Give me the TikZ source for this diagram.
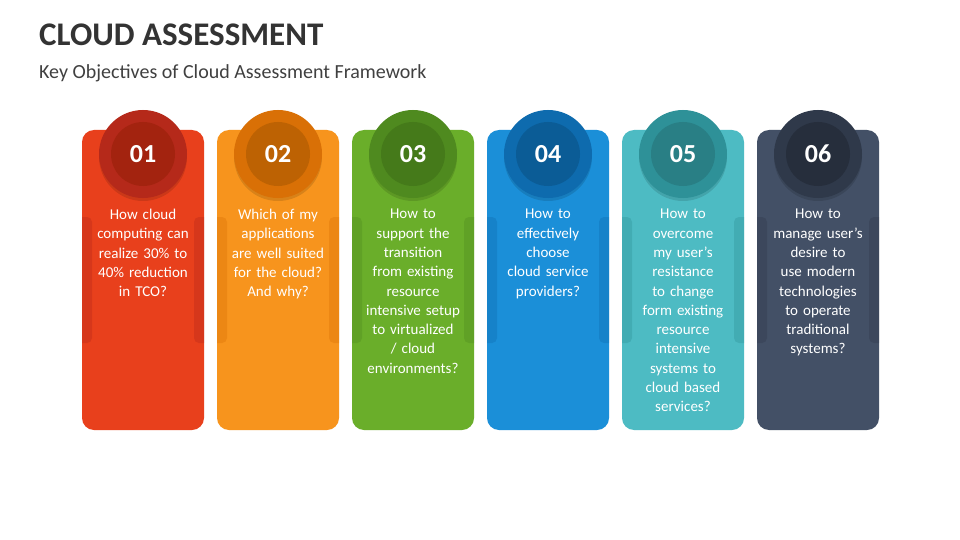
\documentclass[tikz,border=0pt]{standalone}
\usepackage{fontspec}
\setmainfont{Carlito}
\begin{document}
\begin{tikzpicture}[x=1pt,y=-1pt,
  card/.style={rounded corners=12pt},
  txt/.style={text=white,font=\fontsize{15}{19.3}\selectfont,align=center,text width=98pt,anchor=north,inner sep=0pt},
  num/.style={text=white,font=\fontsize{26}{26}\selectfont\bfseries}]
\useasboundingbox (0,0) rectangle (960,540);
\fill[white] (0,0) rectangle (960,540);
\node[anchor=west,font=\fontsize{33}{33}\selectfont\bfseries,text=black!80,inner sep=0pt] (title) at (39,35) {CLOUD ASSESSMENT};
\node[anchor=west,font=\fontsize{20}{20}\selectfont,text=black!75,inner sep=0pt] (sub) at (39,73) {Key Objectives of Cloud Assessment Framework};
\foreach \i/\cc/\co/\ci/\t in {
 1/E8401C/B5291A/A3230F/{How cloud computing can realize 30\% to 40\% reduction in TCO?},
 2/F7941D/D97006/BD6203/{Which of my applications are well suited for the cloud? And why?},
 3/6AAE2A/4F8A1F/457A1A/{How to support the transition from existing resource intensive setup to virtualized / cloud environments?},
 4/1B8FD8/0E6BAE/0B5C96/{How to effectively choose cloud service providers?},
 5/4DBBC3/2E9198/297F85/{How to overcome my user’s resistance to change form existing resource intensive systems to cloud based services?},
 6/435066/2F394A/262E3C/{How to manage user’s desire to use modern technologies to operate traditional systems?}}{
 \definecolor{cc\i}{HTML}{\cc}\definecolor{co\i}{HTML}{\co}\definecolor{ci\i}{HTML}{\ci}
 \pgfmathsetmacro{\cx}{143+135*(\i-1)}
 \fill[cc\i,card] (\cx-61,130) rectangle (\cx+61,430);
 \begin{scope}
 \clip[card] (\cx-61,130) rectangle (\cx+61,430);
 \fill[co\i,opacity=0.35,rounded corners=5pt] (\cx-71,217) rectangle (\cx-51,343);
 \fill[co\i,opacity=0.35,rounded corners=5pt] (\cx+51,217) rectangle (\cx+71,343);
 \end{scope}
 \fill[black,opacity=0.12] (\cx,157) circle (44);
 \fill[co\i] (\cx,154) circle (44);
 \fill[ci\i] (\cx,154) circle (32);
 \node[num] (n\i) at (\cx,154) {0\i};
 \node[txt] (t\i) at (\cx,209) {\t};
}
\end{tikzpicture}
\end{document}
